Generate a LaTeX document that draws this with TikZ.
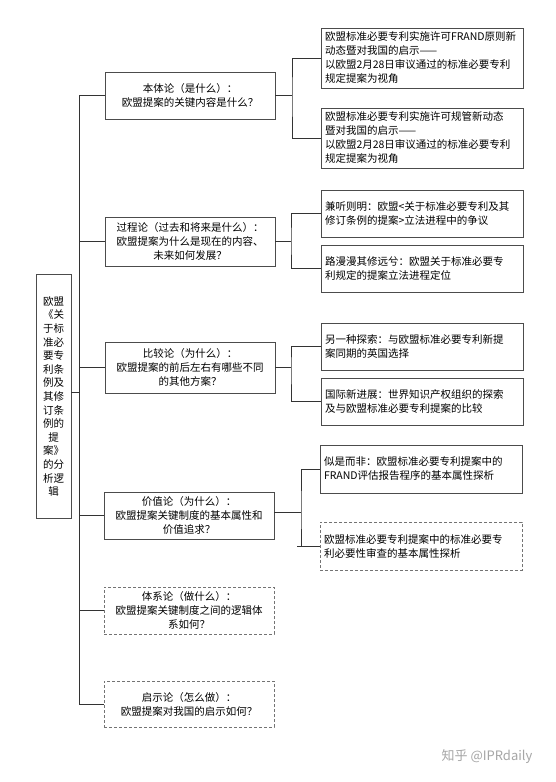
\documentclass[tikz,border=0pt]{standalone}
\usepackage{fontspec}
\setmainfont{Noto Sans CJK SC}
\usetikzlibrary{calc}
\begin{document}
\begin{tikzpicture}[x=1pt,y=-1pt,
  box/.style={draw=black!70,line width=0.9pt,inner sep=3pt,font=\fontsize{10.5}{14}\selectfont},
  lone/.style={box,align=center,minimum width=170pt,text width=164pt},
  ltwo/.style={box,align=left,minimum width=202pt,text width=194pt},
  dbox/.style={dashed,dash pattern=on 3pt off 2pt,draw=black!55},
  link/.style={draw=black!80,line width=0.8pt}]
\useasboundingbox[fill=white] (0,0) rectangle (555,782);
% root
\node[box,align=center,minimum width=35pt,minimum height=244pt,text width=28pt,inner sep=2pt,font=\fontsize{10.5}{13.6}\selectfont] (root) at (53.5,396.5)
 {欧盟\\《关\\于标\\准必\\要专\\利条\\例及\\其修\\订条\\例的\\提\\案》\\的分\\析逻\\辑};
% level 1
\node[lone,minimum height=47pt] (l1) at (190,95.5) {本体论（是什么）：\\欧盟提案的关键内容是什么？};
\node[lone,minimum height=49pt] (l2) at (190,241.5) {过程论（过去和将来是什么）：\\欧盟提案为什么是现在的内容、\\未来如何发展？};
\node[lone,minimum height=51pt] (l3) at (190,367.5) {比较论（为什么）：\\欧盟提案的前后左右有哪些不同\\的其他方案？};
\node[lone,minimum height=47pt] (l4) at (189,515.5) {价值论（为什么）：\\欧盟提案关键制度的基本属性和\\价值追求？};
\node[lone,dbox,minimum height=47pt] (l5) at (189,610.5) {体系论（做什么）：\\欧盟提案关键制度之间的逻辑体\\系如何？};
\node[lone,dbox,minimum height=46pt] (l6) at (189,704) {启示论（怎么做）：\\欧盟提案对我国的启示如何？};
% level 2
\node[ltwo,minimum height=60pt] (a1) at (422,58) {欧盟标准必要专利实施许可FRAND原则新\\动态暨对我国的启示——\\以欧盟2月28日审议通过的标准必要专利\\规定提案为视角};
\node[ltwo,minimum height=60pt] (a2) at (422,138) {欧盟标准必要专利实施许可规管新动态\\暨对我国的启示——\\以欧盟2月28日审议通过的标准必要专利\\规定提案为视角};
\node[ltwo,minimum height=47pt] (b1) at (422,213.5) {兼听则明：欧盟<关于标准必要专利及其\\修订条例的提案>立法进程中的争议};
\node[ltwo,minimum height=47pt] (b2) at (422,268.5) {路漫漫其修远兮：欧盟关于标准必要专\\利规定的提案立法进程定位};
\node[ltwo,minimum height=47pt] (c1) at (422,346.5) {另一种探索：与欧盟标准必要专利新提\\案同期的英国选择};
\node[ltwo,minimum height=47pt] (c2) at (422,401.5) {国际新进展：世界知识产权组织的探索\\及与欧盟标准必要专利提案的比较};
\node[ltwo,minimum height=48pt] (d1) at (421,469) {似是而非：欧盟标准必要专利提案中的\\FRAND评估报告程序的基本属性探析};
\node[ltwo,dbox,minimum height=48pt] (d2) at (421,546) {欧盟标准必要专利提案中的标准必要专\\利必要性审查的基本属性探析};
% trunk
\coordinate (t1) at (79,95.5);
\coordinate (t6) at (79,704);
\draw[link] (root.east |- 0,392) -- (79,392);
\draw[link] (l1.west) -- (t1) -- (t6) -- (l6.west);
\draw[link] (l2.west) -- (l2.west -| t1);
\draw[link] (l3.west) -- (l3.west -| t1);
\draw[link] (l4.west) -- (l4.west -| t1);
\draw[link] (l5.west) -- (l5.west -| t1);
% buses
\coordinate (ba) at (292,95.5);
\draw[link] (l1.east) -- (ba);
\draw[link] (a1.west) -| (ba) |- (a2.west);
\coordinate (bb) at (291,241.5);
\draw[link] (l2.east) -- (bb);
\draw[link] (b1.west) -| (bb) |- (b2.west);
\coordinate (bc) at (291,367.5);
\draw[link] (l3.east) -- (bc);
\draw[link] (c1.west) -| (bc) |- (c2.west);
\coordinate (bd) at (301,512);
\draw[link] (l4.east |- bd) -- (bd);
\draw[link] (d1.west) -| (bd) |- (d2.west);
\draw[link] ($(bd |- d2.west)+(-4,0)$) -- (bd |- d2.west);
% watermark
\node[text=black!35,font=\fontsize{13}{14}\selectfont] (wm) at (487,757) {知乎 @IPRdaily};
\end{tikzpicture}
\end{document}
